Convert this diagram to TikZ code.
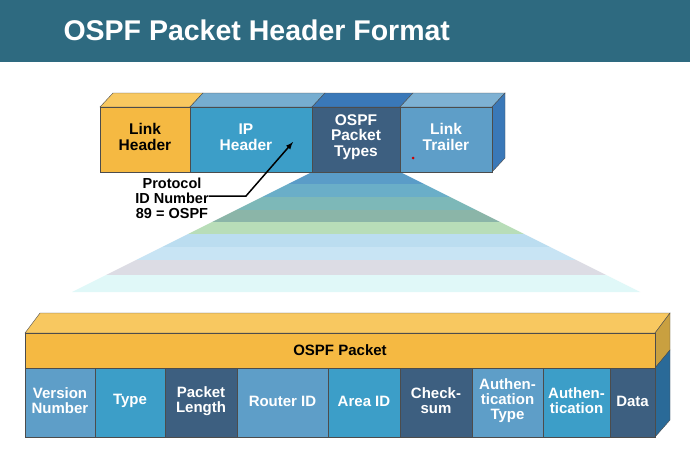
\documentclass[tikz,border=0pt]{standalone}
\usepackage{fontspec}
\setmainfont{Liberation Sans}
\begin{document}
\begin{tikzpicture}[x=1pt,y=-1pt,
  lbl/.style={font=\bfseries\fontsize{15.5}{15.5}\selectfont,align=center,inner sep=0pt},
  fld/.style={font=\bfseries\fontsize{15}{15}\selectfont,align=center,inner sep=0pt,text=white}]
\definecolor{bar}{HTML}{2E6A80}
\definecolor{org}{HTML}{F5B942}
\definecolor{orgT}{HTML}{F8C860}
\definecolor{orgS}{HTML}{C9A040}
\definecolor{bA}{HTML}{5E9EC8}
\definecolor{bB}{HTML}{3C9EC8}
\definecolor{bC}{HTML}{3D5F80}
\definecolor{side}{HTML}{3A78B8}
\definecolor{sideB}{HTML}{2A6A98}
\useasboundingbox (0,0) rectangle (690,460);
\fill[white] (0,0) rectangle (690,460);
\fill[bar] (0,0) rectangle (690,62);
\node[anchor=west,text=white,font=\bfseries\fontsize{28.5}{30}\selectfont] (title) at (60,30) {OSPF Packet Header Format};
% funnel bands
\foreach \ya/\yb/\c in {172/184/5A9CC8,184/197/6AAEC8,197/210/7DB8B8,210/222/8BB5A8,222/234/B8DDB8,234/247/BBDDF0,247/260/C8E4F4,260/275/DCDCE4,275/292/E0F8F8}{
  \definecolor{tmp}{HTML}{\c}
  \fill[tmp] ({312-2*(\ya-172)},\ya) -- ({400+2*(\ya-172)},\ya) -- ({400+2*(\yb-172)},\yb) -- ({312-2*(\yb-172)},\yb) -- cycle;}
% top box
\fill[orgT,draw=black!70] (100,107) -- (113,93) -- (203,93) -- (190,107) -- cycle;
\fill[bA!85!white,draw=black!70] (190,107) -- (203,93) -- (325,93) -- (312,107) -- cycle;
\fill[side,draw=black!70] (312,107) -- (325,93) -- (413,93) -- (400,107) -- cycle;
\fill[bA!80!white,draw=black!70] (400,107) -- (413,93) -- (505,93) -- (492,107) -- cycle;
\fill[side,draw=black!70] (492,107) -- (505,93) -- (505,158) -- (492,172) -- cycle;
\fill[org,draw=black!70] (100,107) rectangle (190,172);
\fill[bB,draw=black!70] (190,107) rectangle (312,172);
\fill[bC,draw=black!70] (312,107) rectangle (400,172);
\fill[bA,draw=black!70] (400,107) rectangle (492,172);
\node[lbl] (lh) at (145,137) {Link\\Header};
\node[lbl,text=white] (ih) at (246,137) {IP\\Header};
\node[lbl,text=white] (ot) at (356,137) {OSPF\\Packet\\Types};
\node[lbl,text=white] (lt) at (446,137) {Link\\Trailer};
\fill[red!80!black] (413,158) circle (1.5);
\node[lbl,font=\bfseries\fontsize{14.5}{15}\selectfont] (proto) at (172,198) {Protocol\\ID Number\\89 = OSPF};
\coordinate (tgt) at (293,142);
\draw[line width=1.5pt,-latex] (proto.east |- 0,196) -- (246,196) -- (tgt);
% bottom packet
\fill[orgT,draw=black!70] (25,333) -- (40,313) -- (670,313) -- (655,333) -- cycle;
\fill[orgS,draw=black!70] (655,333) -- (670,313) -- (670,350) -- (655,368) -- cycle;
\fill[sideB,draw=black!70] (655,368) -- (670,350) -- (670,420) -- (655,437) -- cycle;
\fill[org,draw=black!70] (25,333) rectangle (655,368);
\node[fld,text=black] (op) at (340,350) {OSPF Packet};
\foreach \a/\b/\c/\t/\n in {25/95/bA/{Version\\Number}/f1,95/165/bB/Type/f2,165/237/bC/{Packet\\Length}/f3,237/328/bA/Router ID/f4,328/400/bB/Area ID/f5,400/472/bC/{Check-\\sum}/f6,472/543/bA/{Authen-\\tication\\Type}/f7,543/610/bB/{Authen-\\tication}/f8,610/655/bC/Data/f9}{
  \fill[\c,draw=black!70] (\a,368) rectangle (\b,437);
  \node[fld] (\n) at ({(\a+\b)/2},401) {\t};}
\end{tikzpicture}
\end{document}
